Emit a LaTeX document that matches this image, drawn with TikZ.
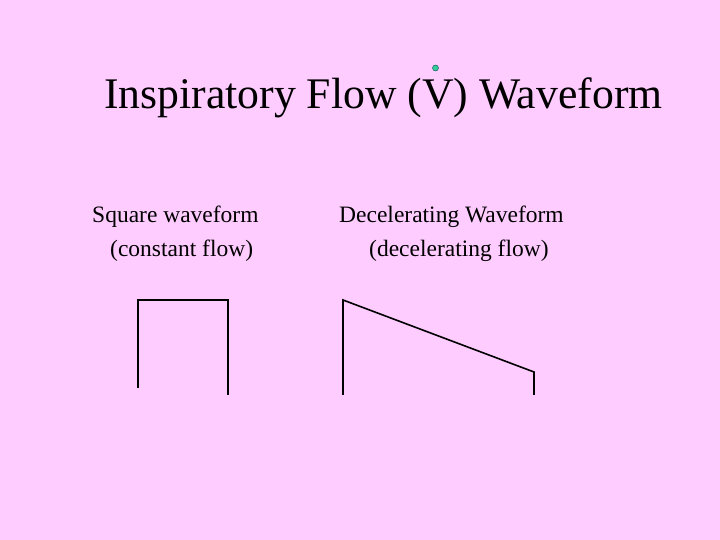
\documentclass[tikz,border=0pt]{standalone}
\usepackage{fontspec}
\setmainfont{Liberation Serif}
\definecolor{slidebg}{HTML}{FFCCFF}
\definecolor{dotcyan}{HTML}{33CC99}
\tikzstyle{wave}=[line width=1.6pt,black]
\tikzstyle{caption}=[font=\fontsize{23.5}{28}\selectfont,anchor=west,inner sep=0pt]

\begin{document}
\begin{tikzpicture}[x=1pt,y=1pt]
\fill[slidebg] (0,0) rectangle (720,540);
\useasboundingbox (0,0) rectangle (720,540);
\node [font=\fontsize{43.7}{50}\selectfont,anchor=west,inner sep=0pt] (title) at (104,442) {Inspiratory Flow (V) Waveform};
\node [circle,fill=dotcyan,draw=teal!60!black,line width=0.4pt,minimum size=6pt,inner sep=0pt] (dot) at (435.5,472) {};
\node [caption] (sq) at (92,323) {Square waveform};
\node [caption] (sqsub) at (110,289) {(constant flow)};
\node [caption] (dec) at (339,323) {Decelerating Waveform};
\node [caption] (decsub) at (369,289) {(decelerating flow)};
% square waveform
\coordinate (s1) at (138,152);
\coordinate (s2) at (138,240);
\coordinate (s3) at (228,240);
\coordinate (s4) at (228,145);
\draw [wave] (s1) -- (s2) -- (s3) -- (s4);
% decelerating waveform
\coordinate (d1) at (343,145);
\coordinate (d2) at (343,240);
\coordinate (d3) at (534,168);
\coordinate (d4) at (534,145);
\draw [wave] (d1) -- (d2) -- (d3) -- (d4);
\end{tikzpicture}
\end{document}
